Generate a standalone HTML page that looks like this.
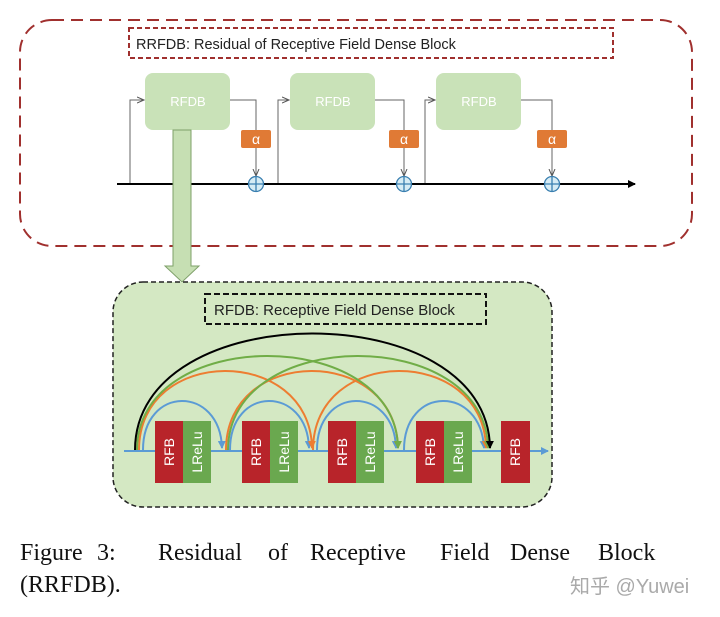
<!DOCTYPE html>
<html><head><meta charset="utf-8"><style>
html,body{margin:0;padding:0;background:#fff;}
svg{display:block;}
</style></head><body>
<svg width="720" height="617" viewBox="0 0 720 617" xmlns="http://www.w3.org/2000/svg">
<defs>
<marker id="ak" markerWidth="8" markerHeight="8" refX="7" refY="4" orient="auto" markerUnits="userSpaceOnUse"><path d="M0,0 L8,4 L0,8 z" fill="#000"/></marker>
<marker id="ag" markerWidth="8" markerHeight="8" refX="7" refY="4" orient="auto" markerUnits="userSpaceOnUse"><path d="M0,1 L7,4 L0,7" fill="none" stroke="#555" stroke-width="1"/></marker>
<marker id="ab" markerWidth="8" markerHeight="8" refX="7" refY="4" orient="auto" markerUnits="userSpaceOnUse"><path d="M0,0 L8,4 L0,8 z" fill="#5b9bd5"/></marker>
<marker id="ao" markerWidth="8" markerHeight="8" refX="7" refY="4" orient="auto" markerUnits="userSpaceOnUse"><path d="M0,0 L8,4 L0,8 z" fill="#ed7d31"/></marker>
<marker id="agr" markerWidth="8" markerHeight="8" refX="7" refY="4" orient="auto" markerUnits="userSpaceOnUse"><path d="M0,0 L8,4 L0,8 z" fill="#70ad47"/></marker>
</defs>
<rect x="20" y="20" width="672" height="226" rx="32" fill="none" stroke="#a0302e" stroke-width="2" stroke-dasharray="12,7"/>
<rect x="129" y="28" width="484" height="30" fill="none" stroke="#a0302e" stroke-width="2" stroke-dasharray="5,3"/>
<text x="136" y="49" font-family="Liberation Sans, sans-serif" font-size="14.5" fill="#222">RRFDB: Residual of Receptive Field Dense Block</text>
<g font-family="Liberation Sans, sans-serif" font-size="13" fill="#fff" text-anchor="middle">
<rect x="145" y="73" width="85" height="57" rx="8" fill="#c9e2b8"/><text x="188" y="106">RFDB</text>
<rect x="290" y="73" width="85" height="57" rx="8" fill="#c9e2b8"/><text x="333" y="106">RFDB</text>
<rect x="436" y="73" width="85" height="57" rx="8" fill="#c9e2b8"/><text x="479" y="106">RFDB</text>
</g>
<g fill="none" stroke="#666" stroke-width="1">
<path d="M130,184 V100 H144" marker-end="url(#ag)"/>
<path d="M278,184 V100 H289" marker-end="url(#ag)"/>
<path d="M425,184 V100 H435" marker-end="url(#ag)"/>
<path d="M230,100 H256 V130"/><path d="M256,148 V176" marker-end="url(#ag)"/>
<path d="M375,100 H404 V130"/><path d="M404,148 V176" marker-end="url(#ag)"/>
<path d="M521,100 H552 V130"/><path d="M552,148 V176" marker-end="url(#ag)"/>
</g>
<line x1="117" y1="184" x2="635" y2="184" stroke="#000" stroke-width="2" marker-end="url(#ak)"/>
<g font-family="Liberation Sans, sans-serif" font-size="14" fill="#fff" text-anchor="middle">
<rect x="241" y="130" width="30" height="18" rx="2" fill="#e07a35"/><text x="256" y="144">α</text>
<rect x="389" y="130" width="30" height="18" rx="2" fill="#e07a35"/><text x="404" y="144">α</text>
<rect x="537" y="130" width="30" height="18" rx="2" fill="#e07a35"/><text x="552" y="144">α</text>
</g>
<g fill="#d6ecf5" stroke="#3a7fb0" stroke-width="1.3">
<circle cx="256" cy="184" r="7.5"/><circle cx="404" cy="184" r="7.5"/><circle cx="552" cy="184" r="7.5"/>
</g>
<g stroke="#3a7fb0" stroke-width="1.3">
<path d="M248.5,184 H263.5 M256,176.5 V191.5 M396.5,184 H411.5 M404,176.5 V191.5 M544.5,184 H559.5 M552,176.5 V191.5"/>
</g>
<path d="M173,130 H191 V266 H199 L182,282 L165,266 H173 Z" fill="#c6dfb3" stroke="#7fa06a" stroke-width="1"/>
<rect x="113" y="282" width="439" height="225" rx="30" fill="#d4e8c3" stroke="#222" stroke-width="1.5" stroke-dasharray="5,3"/>
<rect x="205" y="294" width="281" height="30" fill="none" stroke="#111" stroke-width="2" stroke-dasharray="6,3"/>
<text x="214" y="315" font-family="Liberation Sans, sans-serif" font-size="15" fill="#222">RFDB: Receptive Field Dense Block</text>
<line x1="124" y1="451" x2="548" y2="451" stroke="#5b9bd5" stroke-width="2" marker-end="url(#ab)"/>
<g fill="none" stroke-width="2">
<path d="M143,450 C143,385 220,385 222,448" stroke="#5b9bd5" marker-end="url(#ab)"/>
<path d="M230,450 C230,385 307,385 309,448" stroke="#5b9bd5" marker-end="url(#ab)"/>
<path d="M317,450 C317,385 394,385 396,448" stroke="#5b9bd5" marker-end="url(#ab)"/>
<path d="M404,450 C404,385 481,385 484,448" stroke="#5b9bd5" marker-end="url(#ab)"/>
<path d="M139,450 C139,345 310,345 312,448" stroke="#ed7d31" marker-end="url(#ao)"/>
<path d="M226,450 C226,345 396,345 398,448" stroke="#ed7d31" marker-end="url(#ao)"/>
<path d="M313,450 C313,345 484,345 486,448" stroke="#ed7d31" marker-end="url(#ao)"/>
<path d="M137,450 C137,325 396,325 398,448" stroke="#70ad47" marker-end="url(#agr)"/>
<path d="M228,450 C228,325 486,325 488,448" stroke="#70ad47" marker-end="url(#agr)"/>
<path d="M135,450 C135,295 488,295 490,448" stroke="#000" marker-end="url(#ak)"/>
</g>
<g font-family="Liberation Sans, sans-serif" font-size="14" fill="#fff" text-anchor="middle">
<rect x="155" y="421" width="28" height="62" fill="#b8242a"/><text transform="translate(174,452) rotate(-90)">RFB</text>
<rect x="183" y="421" width="28" height="62" fill="#6aa84f"/><text transform="translate(202,452) rotate(-90)">LReLu</text>
<rect x="242" y="421" width="28" height="62" fill="#b8242a"/><text transform="translate(261,452) rotate(-90)">RFB</text>
<rect x="270" y="421" width="28" height="62" fill="#6aa84f"/><text transform="translate(289,452) rotate(-90)">LReLu</text>
<rect x="328" y="421" width="28" height="62" fill="#b8242a"/><text transform="translate(347,452) rotate(-90)">RFB</text>
<rect x="356" y="421" width="28" height="62" fill="#6aa84f"/><text transform="translate(375,452) rotate(-90)">LReLu</text>
<rect x="416" y="421" width="28" height="62" fill="#b8242a"/><text transform="translate(435,452) rotate(-90)">RFB</text>
<rect x="444" y="421" width="28" height="62" fill="#6aa84f"/><text transform="translate(463,452) rotate(-90)">LReLu</text>
<rect x="501" y="421" width="29" height="62" fill="#b8242a"/><text transform="translate(520,452) rotate(-90)">RFB</text>
</g>
<g font-family="Liberation Serif, serif" font-size="24" fill="#111">
<text x="20" y="560">Figure</text>
<text x="97" y="560">3:</text>
<text x="158" y="560">Residual</text>
<text x="268" y="560">of</text>
<text x="310" y="560">Receptive</text>
<text x="440" y="560">Field</text>
<text x="510" y="560">Dense</text>
<text x="598" y="560">Block</text>
<text x="20" y="592">(RRFDB).</text>
</g>
<text x="570" y="593" font-family="Liberation Sans, 'Noto Sans CJK SC', sans-serif" font-size="20" fill="#aaa">知乎 @Yuwei</text>
</svg>
</body></html>
